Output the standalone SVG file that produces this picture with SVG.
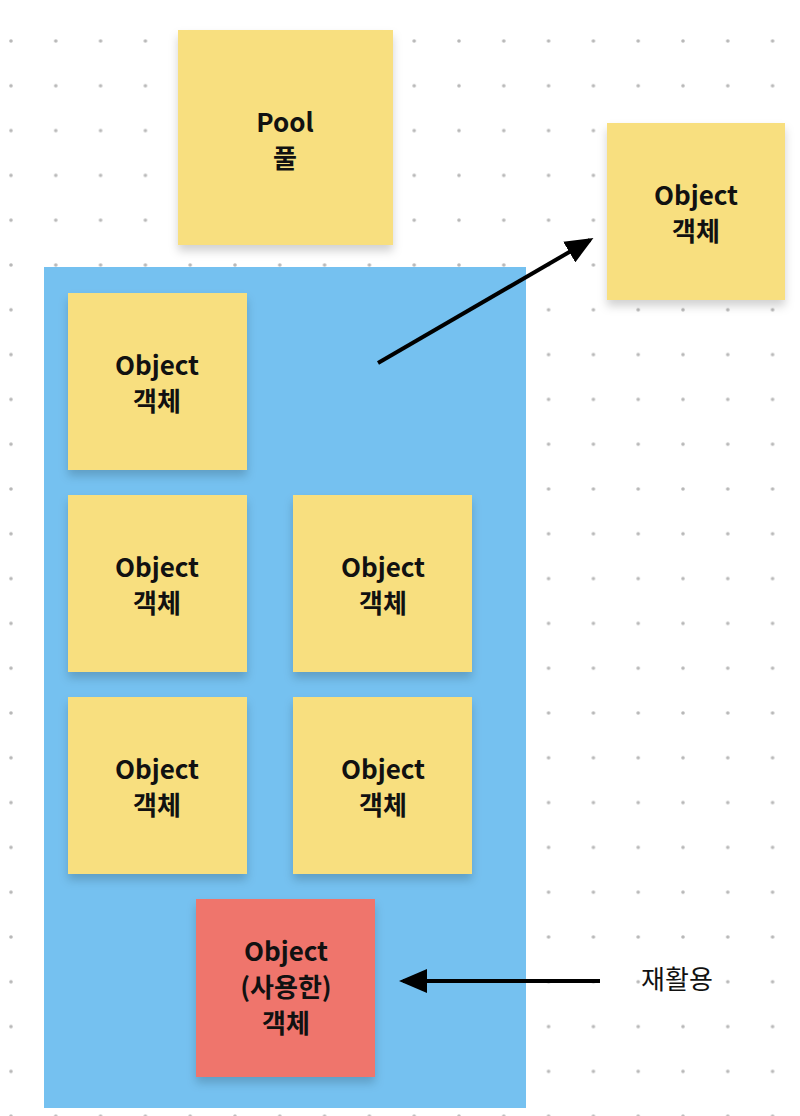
<svg xmlns="http://www.w3.org/2000/svg" width="800" height="1116" viewBox="0 0 800 1116">
<defs>
<pattern id="dots" x="9" y="39" width="44.8" height="44.8" patternUnits="userSpaceOnUse"><circle cx="2" cy="2" r="1.8" fill="#b8b8b8"/></pattern>
<filter id="sh" x="-20%" y="-20%" width="140%" height="150%"><feDropShadow dx="0" dy="6" stdDeviation="5" flood-color="#000" flood-opacity="0.18"/></filter>
<marker id="ah" markerWidth="7" markerHeight="6" refX="6" refY="3" orient="auto" markerUnits="strokeWidth"><path d="M0,0 L7,3 L0,6 Z" fill="#000"/></marker>
</defs>
<style>
.st{fill:#f8df7f;filter:url(#sh)}
.red{fill:#ef756c;filter:url(#sh)}
text{font-family:"Noto Sans CJK KR","Noto Sans",sans-serif;font-weight:bold;font-size:26px;text-anchor:middle;fill:#111}
.plain{font-weight:normal;font-size:26px}
</style>
<rect width="800" height="1116" fill="#fff"/>
<rect width="800" height="1116" fill="url(#dots)"/>
<rect id="pool-area" x="44" y="267" width="482" height="841" fill="#75c1f0"/>
<g id="pool"><rect class="st" x="178" y="30" width="215" height="215"/><text x="285" y="132">Pool</text><text x="285" y="168">풀</text></g>
<g id="obj-out"><rect class="st" x="607" y="123" width="178" height="177"/><text x="696" y="205">Object</text><text x="696" y="241">객체</text></g>
<g id="obj1"><rect class="st" x="68" y="293" width="179" height="177"/><text x="157" y="375">Object</text><text x="157" y="411">객체</text></g>
<g id="obj2"><rect class="st" x="68" y="495" width="179" height="177"/><text x="157" y="577">Object</text><text x="157" y="613">객체</text></g>
<g id="obj3"><rect class="st" x="293" y="495" width="179" height="177"/><text x="383" y="577">Object</text><text x="383" y="613">객체</text></g>
<g id="obj4"><rect class="st" x="68" y="697" width="179" height="177"/><text x="157" y="779">Object</text><text x="157" y="815">객체</text></g>
<g id="obj5"><rect class="st" x="293" y="697" width="179" height="177"/><text x="383" y="779">Object</text><text x="383" y="815">객체</text></g>
<g id="used"><rect class="red" x="196" y="899" width="179" height="178"/><text x="286" y="961">Object</text><text x="286" y="997">(사용한)</text><text x="286" y="1033">객체</text></g>
<g id="recycle-label"><text class="plain" x="677" y="989">재활용</text></g>
<g id="connectors" stroke="#000" stroke-width="4" fill="none">
<line x1="378" y1="363" x2="590" y2="240" marker-end="url(#ah)"/>
<line x1="600" y1="981" x2="403" y2="981" marker-end="url(#ah)"/>
</g>
</svg>
